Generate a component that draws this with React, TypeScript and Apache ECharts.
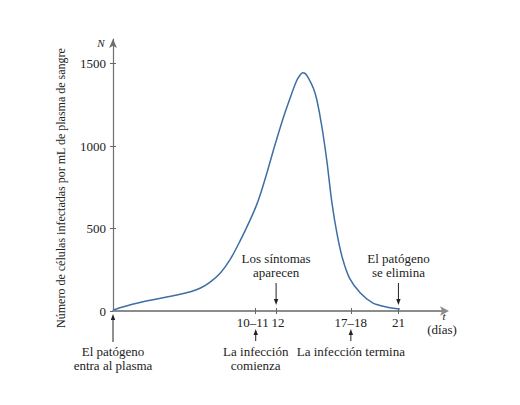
import React, { useEffect, useRef } from "react";
import * as echarts from "echarts";

const days = [0, 0.5, 2.2, 4.7, 5.7, 6.4, 7.1, 7.9, 8.6, 9.35, 10.05, 10.5, 10.85, 11.35, 11.8, 12.5, 13.0, 13.5, 13.75, 13.95, 14.15, 14.4, 14.75, 15.0, 15.37, 15.75, 16.1, 16.5, 16.9, 17.4, 18.2, 19.1, 20.1, 21.1];
const cells = [5, 20, 56, 97, 117, 138, 172, 231, 310, 425, 545, 630, 710, 845, 975, 1165, 1285, 1395, 1430, 1446, 1440, 1410, 1350, 1280, 1117, 900, 660, 460, 315, 200, 109, 49, 24, 12];

const tickDays = [10.5, 12, 17.5, 21];
const tickLabels = ["10–11", "12", "17–18", "21"];
const yTicks = [0, 500, 1000, 1500];

const topNotes = [
  { t: 12, text: "Los síntomas\naparecen" },
  { t: 21, text: "El patógeno\nse elimina" },
];
const bottomNotes = [
  { t: 0, text: "El patógeno\nentra al plasma", arrowTop: 314, arrowBottom: 342 },
  { t: 10.5, text: "La infección\ncomienza", arrowTop: 329, arrowBottom: 341 },
  { t: 17.5, text: "La infección termina", arrowTop: 329, arrowBottom: 341 },
];

const FONT = '"Liberation Serif", "DejaVu Serif", serif';
const TXT = "#222";

function arrowDown(x: number, y1: number, y2: number) {
  return [
    { type: "line", shape: { x1: x, y1, x2: x, y2: y2 - 4 }, style: { stroke: "#222", lineWidth: 1 } },
    { type: "polygon", shape: { points: [[x - 2.2, y2 - 6], [x + 2.2, y2 - 6], [x, y2]] }, style: { fill: "#222" } },
  ];
}
function arrowUp(x: number, y1: number, y2: number) {
  return [
    { type: "line", shape: { x1: x, y1: y1 + 4, x2: x, y2 }, style: { stroke: "#222", lineWidth: 1 } },
    { type: "polygon", shape: { points: [[x - 2.2, y1 + 6], [x + 2.2, y1 + 6], [x, y1]] }, style: { fill: "#222" } },
  ];
}

export default function App() {
  const ref = useRef<HTMLDivElement>(null);
  useEffect(() => {
    document.body.style.margin = "0";
    const chart = echarts.init(ref.current!, null, { renderer: "svg" });
    const labelStyle = { fontFamily: FONT, fontSize: 13, color: TXT };
    chart.setOption({
      animation: false,
      backgroundColor: "#fff",
      grid: { left: 113, top: 39, width: 333, height: 272 },
      xAxis: [
        {
          type: "value",
          min: 0,
          max: 24.5,
          axisLine: { show: true, lineStyle: { color: "#8c8c8c", width: 2 }, symbol: ["none", "arrow"], symbolSize: [7, 9], symbolOffset: [0, 3] },
          axisTick: { show: true, customValues: tickDays, length: 3, lineStyle: { color: "#666" } },
          axisLabel: { show: false },
          splitLine: { show: false },
        },
        {
          type: "value",
          min: 0,
          max: 24.5,
          position: "bottom",
          axisLine: { show: false },
          axisTick: { show: true, inside: true, customValues: tickDays, length: 3, lineStyle: { color: "#666" } },
          axisLabel: { show: false },
          splitLine: { show: false },
        },
      ],
      yAxis: [
        {
          type: "value",
          min: 0,
          max: 1650,
          axisLine: { show: true, lineStyle: { color: "#6e6e6e", width: 1.2 }, symbol: ["none", "arrow"], symbolSize: [6, 9] },
          axisTick: { show: true, customValues: yTicks, length: 3, lineStyle: { color: "#666" } },
          axisLabel: { ...labelStyle, margin: 7, customValues: yTicks, formatter: (v: number) => String(v) },
          splitLine: { show: false },
        },
        {
          type: "value",
          min: 0,
          max: 1650,
          position: "left",
          axisLine: { show: false },
          axisTick: { show: true, inside: true, customValues: yTicks.filter((v) => v > 0), length: 3, lineStyle: { color: "#666" } },
          axisLabel: { show: false },
          splitLine: { show: false },
        },
      ],
      series: [
        {
          type: "line",
          xAxisIndex: 0,
          yAxisIndex: 0,
          data: days.map((d, i) => [d, cells[i]]),
          showSymbol: false,
          smooth: 0.3,
          lineStyle: { color: "#3d6fa3", width: 1.5 },
          z: 3,
        },
      ],
    });

    const px = (t: number) => chart.convertToPixel({ xAxisIndex: 0 }, t) as number;
    const textEl = (x: number, y: number, text: string, extra: any = {}) => ({
      type: "text",
      x,
      y,
      style: { text, fontFamily: FONT, fontSize: 13, fill: TXT, align: "center", verticalAlign: "top", lineHeight: 14, ...extra },
    });

    const graphics: any[] = [];
    graphics.push({
      type: "text",
      x: 61,
      y: 188,
      rotation: Math.PI / 2,
      style: { text: "Número de células infectadas por mL de plasma de sangre", fontFamily: FONT, fontSize: 12, fill: TXT, align: "center", verticalAlign: "middle" },
    });
    graphics.push(textEl(101, 36, "N", { fontStyle: "italic", fontSize: 11 }));
    graphics.push(textEl(444, 309, "t", { fontStyle: "italic", fontSize: 11 }));
    graphics.push(textEl(442, 322, "(días)"));
    tickDays.forEach((t, i) => {
      const nudge = i === 0 ? -3 : i === 1 ? 2 : 0;
      graphics.push(textEl(px(t) + nudge, 315, tickLabels[i]));
    });
    topNotes.forEach((n) => {
      const x = px(n.t);
      graphics.push(textEl(x, 251, n.text));
      graphics.push(...arrowDown(x, 283, 305));
    });
    bottomNotes.forEach((n) => {
      const x = px(n.t);
      graphics.push(...arrowUp(x, n.arrowTop, n.arrowBottom));
      graphics.push(textEl(x, 344, n.text));
    });
    chart.setOption({ graphic: graphics });

    return () => chart.dispose();
  }, []);
  return <div ref={ref} style={{ width: 520, height: 405 }} />;
}
